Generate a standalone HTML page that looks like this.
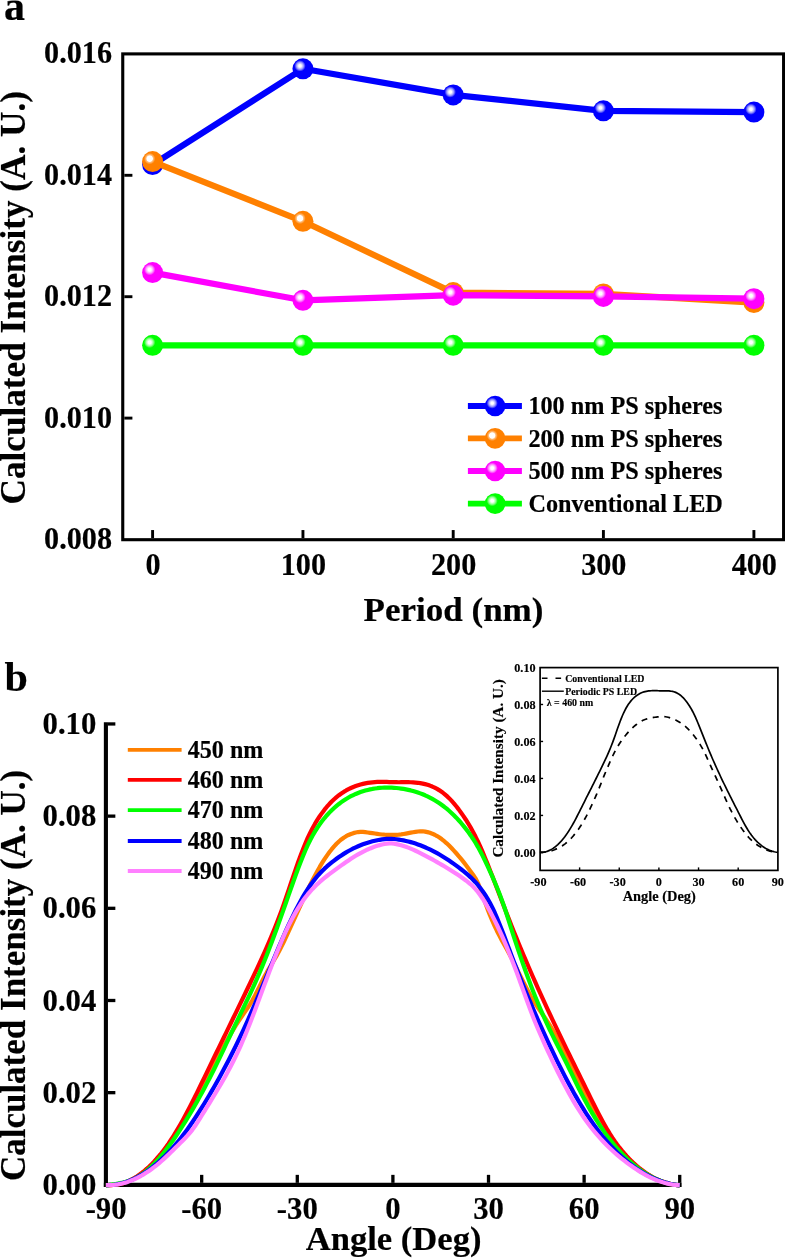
<!DOCTYPE html>
<html lang="en"><head><meta charset="utf-8"><title>Calculated intensity of PS-sphere LEDs</title>
<style>html,body{margin:0;padding:0;background:#fff;}svg{display:block;font-family:"Liberation Serif", "DejaVu Serif", serif;font-weight:bold;fill:#000;}text{stroke:#000;stroke-width:0.2px;stroke-linejoin:round;}#inset text{stroke-width:0.15px;}</style></head><body>
<svg width="785" height="1258" viewBox="0 0 785 1258">
<defs>
<radialGradient id="g_blue" cx="0.36" cy="0.36" r="0.27" fx="0.36" fy="0.36"><stop offset="0" stop-color="#ffffff"/><stop offset="0.22" stop-color="#ffffff"/><stop offset="0.62" stop-color="#9a9aff"/><stop offset="1" stop-color="#0000ff"/></radialGradient>
<radialGradient id="g_orange" cx="0.36" cy="0.36" r="0.27" fx="0.36" fy="0.36"><stop offset="0" stop-color="#ffffff"/><stop offset="0.5" stop-color="#ffffff"/><stop offset="0.62" stop-color="#ffc48a"/><stop offset="1" stop-color="#ff8000"/></radialGradient>
<radialGradient id="g_magenta" cx="0.36" cy="0.36" r="0.27" fx="0.36" fy="0.36"><stop offset="0" stop-color="#ffffff"/><stop offset="0.26" stop-color="#ffffff"/><stop offset="0.62" stop-color="#ff9cff"/><stop offset="1" stop-color="#ff00ff"/></radialGradient>
<radialGradient id="g_green" cx="0.36" cy="0.36" r="0.27" fx="0.36" fy="0.36"><stop offset="0" stop-color="#ffffff"/><stop offset="0.26" stop-color="#ffffff"/><stop offset="0.62" stop-color="#9cff9c"/><stop offset="1" stop-color="#00ff00"/></radialGradient>
</defs>
<rect width="785" height="1258" fill="#fff"/>
<g id="panel-a">
<polyline points="152.6,164.6 302.95,68.8 453.2,94.9 603.4,110.8 753.9,112.1" fill="none" stroke="#0000ff" stroke-width="6.2" stroke-linejoin="round"/>
<circle cx="152.6" cy="164.6" r="10.5" fill="url(#g_blue)"/>
<circle cx="302.95" cy="68.8" r="10.5" fill="url(#g_blue)"/>
<circle cx="453.2" cy="94.9" r="10.5" fill="url(#g_blue)"/>
<circle cx="603.4" cy="110.8" r="10.5" fill="url(#g_blue)"/>
<circle cx="753.9" cy="112.1" r="10.5" fill="url(#g_blue)"/>
<polyline points="152.6,161.6 302.95,221.3 453.2,292.6 603.4,293.9 753.9,302.6" fill="none" stroke="#ff8000" stroke-width="6.2" stroke-linejoin="round"/>
<circle cx="152.6" cy="161.6" r="10.5" fill="url(#g_orange)"/>
<circle cx="302.95" cy="221.3" r="10.5" fill="url(#g_orange)"/>
<circle cx="453.2" cy="292.6" r="10.5" fill="url(#g_orange)"/>
<circle cx="603.4" cy="293.9" r="10.5" fill="url(#g_orange)"/>
<circle cx="753.9" cy="302.6" r="10.5" fill="url(#g_orange)"/>
<polyline points="152.6,272.6 302.95,300.3 453.2,295.2 603.4,296.4 753.9,298.7" fill="none" stroke="#ff00ff" stroke-width="6.2" stroke-linejoin="round"/>
<circle cx="152.6" cy="272.6" r="10.5" fill="url(#g_magenta)"/>
<circle cx="302.95" cy="300.3" r="10.5" fill="url(#g_magenta)"/>
<circle cx="453.2" cy="295.2" r="10.5" fill="url(#g_magenta)"/>
<circle cx="603.4" cy="296.4" r="10.5" fill="url(#g_magenta)"/>
<circle cx="753.9" cy="298.7" r="10.5" fill="url(#g_magenta)"/>
<polyline points="152.6,345.3 302.95,345.3 453.2,345.3 603.4,345.3 753.9,345.3" fill="none" stroke="#00ff00" stroke-width="6.2" stroke-linejoin="round"/>
<circle cx="152.6" cy="345.3" r="10.5" fill="url(#g_green)"/>
<circle cx="302.95" cy="345.3" r="10.5" fill="url(#g_green)"/>
<circle cx="453.2" cy="345.3" r="10.5" fill="url(#g_green)"/>
<circle cx="603.4" cy="345.3" r="10.5" fill="url(#g_green)"/>
<circle cx="753.9" cy="345.3" r="10.5" fill="url(#g_green)"/>
<rect x="122.75" y="53.9" width="660.85" height="485.8" fill="none" stroke="#000" stroke-width="3.1"/>
<text transform="translate(112 63.4) scale(0.9680 1)" font-size="31.2" text-anchor="end" >0.016</text>
<line x1="124.3" y1="175.3" x2="132.4" y2="175.3" stroke="#000" stroke-width="2.9" />
<text transform="translate(112 184.8) scale(0.9680 1)" font-size="31.2" text-anchor="end" >0.014</text>
<line x1="124.3" y1="296.7" x2="132.4" y2="296.7" stroke="#000" stroke-width="2.9" />
<text transform="translate(112 306.2) scale(0.9680 1)" font-size="31.2" text-anchor="end" >0.012</text>
<line x1="124.3" y1="418.1" x2="132.4" y2="418.1" stroke="#000" stroke-width="2.9" />
<text transform="translate(112 427.6) scale(0.9680 1)" font-size="31.2" text-anchor="end" >0.010</text>
<text transform="translate(112 549) scale(0.9680 1)" font-size="31.2" text-anchor="end" >0.008</text>
<line x1="152.6" y1="538.15" x2="152.6" y2="530.05" stroke="#000" stroke-width="2.9" />
<text transform="translate(153 574.5) scale(0.9680 1)" font-size="31.2" text-anchor="middle" >0</text>
<line x1="302.95" y1="538.15" x2="302.95" y2="530.05" stroke="#000" stroke-width="2.9" />
<text transform="translate(303.35 574.5) scale(0.9680 1)" font-size="31.2" text-anchor="middle" >100</text>
<line x1="453.2" y1="538.15" x2="453.2" y2="530.05" stroke="#000" stroke-width="2.9" />
<text transform="translate(453.6 574.5) scale(0.9680 1)" font-size="31.2" text-anchor="middle" >200</text>
<line x1="603.4" y1="538.15" x2="603.4" y2="530.05" stroke="#000" stroke-width="2.9" />
<text transform="translate(603.8 574.5) scale(0.9680 1)" font-size="31.2" text-anchor="middle" >300</text>
<line x1="753.9" y1="538.15" x2="753.9" y2="530.05" stroke="#000" stroke-width="2.9" />
<text transform="translate(754.3 574.5) scale(0.9680 1)" font-size="31.2" text-anchor="middle" >400</text>
<text transform="translate(453.5 620.7) scale(1.0300 1)" font-size="34" text-anchor="middle" >Period (nm)</text>
<text transform="translate(24.9 297.8) rotate(-90)" font-size="35.2" text-anchor="middle" >Calculated Intensity (A. U.)</text>
<line x1="467.9" y1="406" x2="521.9" y2="406" stroke="#0000ff" stroke-width="5.9" />
<circle cx="495.1" cy="406" r="10.3" fill="url(#g_blue)"/>
<text transform="translate(528.4 414.1) scale(0.9250 1)" font-size="26.2" text-anchor="start" >100 nm PS spheres</text>
<line x1="467.9" y1="438.4" x2="521.9" y2="438.4" stroke="#ff8000" stroke-width="5.9" />
<circle cx="495.1" cy="438.4" r="10.3" fill="url(#g_orange)"/>
<text transform="translate(528.4 446.5) scale(0.9250 1)" font-size="26.2" text-anchor="start" >200 nm PS spheres</text>
<line x1="467.9" y1="471" x2="521.9" y2="471" stroke="#ff00ff" stroke-width="5.9" />
<circle cx="495.1" cy="471" r="10.3" fill="url(#g_magenta)"/>
<text transform="translate(528.4 479.1) scale(0.9250 1)" font-size="26.2" text-anchor="start" >500 nm PS spheres</text>
<line x1="467.9" y1="503.6" x2="521.9" y2="503.6" stroke="#00ff00" stroke-width="5.9" />
<circle cx="495.1" cy="503.6" r="10.3" fill="url(#g_green)"/>
<text transform="translate(528.4 511.7) scale(0.9250 1)" font-size="26.2" text-anchor="start" >Conventional LED</text>
<text x="4" y="20.4" font-size="42" text-anchor="start" >a</text>
</g>
<g id="panel-b">
<line x1="105.9" y1="722.2" x2="105.9" y2="1186.95" stroke="#000" stroke-width="4.1" />
<line x1="103.85" y1="1184.9" x2="681.63" y2="1184.9" stroke="#000" stroke-width="4.1" />
<path d="M105.9,1185.06 L108.31,1185.07 L110.73,1185.08 L113.14,1184.96 L115.55,1184.72 L117.96,1184.34 L120.38,1183.82 L122.79,1183.17 L125.2,1182.39 L127.62,1181.47 L130.03,1180.42 L132.44,1179.23 L134.85,1177.91 L137.26,1176.46 L139.66,1174.89 L142.06,1173.17 L144.46,1171.33 L146.86,1169.36 L149.27,1167.26 L151.67,1165.02 L154.07,1162.66 L156.47,1160.16 L158.87,1157.52 L161.27,1154.75 L163.67,1151.85 L166.07,1148.81 L168.47,1145.63 L170.87,1142.31 L173.27,1138.79 L175.67,1135.14 L178.08,1131.34 L180.48,1127.41 L182.88,1123.34 L185.28,1119.16 L187.68,1114.88 L190.08,1110.5 L192.48,1106.04 L194.88,1101.51 L197.28,1096.93 L199.68,1092.3 L202.08,1087.64 L204.48,1082.96 L206.89,1078.28 L209.29,1073.59 L211.69,1068.93 L214.09,1064.29 L216.49,1059.69 L218.89,1055.15 L221.29,1050.66 L223.69,1046.25 L226.09,1041.93 L228.49,1037.7 L230.89,1033.58 L233.29,1029.57 L235.7,1025.69 L238.1,1021.95 L240.5,1018.37 L242.9,1014.88 L245.3,1011.4 L247.7,1007.83 L250.1,1004.08 L252.5,1000.05 L254.9,995.64 L257.3,990.94 L259.7,986.09 L262.1,981.25 L264.51,976.57 L266.91,972.17 L269.31,968.04 L271.71,964.03 L274.11,960.03 L276.51,955.91 L278.91,951.57 L281.31,946.91 L283.71,942 L286.11,936.91 L288.51,931.7 L290.91,926.44 L293.32,921.15 L295.72,915.85 L298.12,910.56 L300.52,905.31 L302.92,900.1 L305.32,894.98 L307.72,889.94 L310.12,885.03 L312.52,880.25 L314.92,875.63 L317.32,871.19 L319.72,866.95 L322.12,862.93 L324.52,859.15 L326.93,855.63 L329.33,852.32 L331.73,849.21 L334.13,846.36 L336.53,843.79 L338.93,841.49 L341.33,839.46 L343.73,837.7 L346.13,836.21 L348.53,834.97 L350.93,833.96 L353.32,833.14 L355.72,832.51 L358.12,832.06 L360.52,831.79 L362.91,831.9 L365.31,832.15 L367.71,832.46 L370.1,832.8 L372.49,833.16 L374.89,833.52 L377.28,833.88 L379.67,834.21 L382.06,834.49 L384.45,834.71 L386.83,834.85 L389.22,834.88 L391.61,834.83 L393.99,834.9 L396.38,834.82 L398.77,834.63 L401.15,834.34 L403.54,833.97 L405.93,833.56 L408.32,833.12 L410.71,832.68 L413.11,832.25 L415.5,831.86 L417.89,831.52 L420.29,831.26 L422.69,831.28 L425.08,831.62 L427.48,832.13 L429.88,832.82 L432.28,833.7 L434.67,834.77 L437.07,836.06 L439.47,837.56 L441.87,839.28 L444.27,841.21 L446.67,843.31 L449.07,845.59 L451.47,848.02 L453.87,850.59 L456.27,853.27 L458.67,856.06 L461.08,858.94 L463.48,861.92 L465.88,864.99 L468.28,868.16 L470.68,871.42 L473.08,874.71 L475.48,878.32 L477.88,882.88 L480.28,888.92 L482.68,895.55 L485.08,902.33 L487.48,908.87 L489.88,914.97 L492.28,920.66 L494.69,926.12 L497.09,931.19 L499.49,935.91 L501.89,940.39 L504.29,944.74 L506.69,949.07 L509.09,953.5 L511.49,958.12 L513.89,962.87 L516.29,967.72 L518.69,972.61 L521.09,977.49 L523.5,982.31 L525.9,987.03 L528.3,991.59 L530.7,995.95 L533.1,1000.05 L535.5,1003.89 L537.9,1007.53 L540.3,1011.04 L542.7,1014.51 L545.1,1018.01 L547.5,1021.62 L549.9,1025.38 L552.31,1029.3 L554.71,1033.36 L557.11,1037.57 L559.51,1041.93 L561.91,1046.42 L564.31,1051.04 L566.71,1055.8 L569.11,1060.67 L571.51,1065.68 L573.91,1070.78 L576.31,1075.94 L578.71,1081.1 L581.12,1086.19 L583.52,1091.17 L585.92,1096 L588.32,1100.69 L590.72,1105.24 L593.12,1109.65 L595.52,1113.92 L597.92,1118.05 L600.32,1122.05 L602.72,1125.91 L605.12,1129.64 L607.52,1133.24 L609.93,1136.7 L612.33,1139.99 L614.73,1143.14 L617.13,1146.18 L619.53,1149.08 L621.93,1151.87 L624.33,1154.54 L626.73,1157.08 L629.13,1159.51 L631.53,1161.82 L633.93,1164.02 L636.33,1166.1 L638.74,1168.08 L641.14,1169.93 L643.54,1171.68 L645.94,1173.32 L648.34,1174.85 L650.75,1176.28 L653.16,1177.59 L655.57,1178.81 L657.98,1179.91 L660.4,1180.91 L662.81,1181.81 L665.22,1182.61 L667.64,1183.3 L670.05,1183.9 L672.46,1184.39 L674.87,1184.79 L677.29,1185.09 L679.7,1185.3" fill="none" stroke="#ff8000" stroke-width="4.2" stroke-linejoin="round" stroke-linecap="butt"/>
<path d="M105.9,1185.1 L108.31,1185.07 L110.73,1185.11 L113.14,1185.02 L115.55,1184.79 L117.96,1184.41 L120.38,1183.89 L122.79,1183.22 L125.2,1182.41 L127.62,1181.45 L130.03,1180.35 L132.44,1179.11 L134.85,1177.72 L137.26,1176.2 L139.66,1174.53 L142.06,1172.73 L144.46,1170.79 L146.86,1168.71 L149.27,1166.49 L151.67,1164.13 L154.07,1161.63 L156.47,1158.98 L158.87,1156.2 L161.27,1153.27 L163.67,1150.2 L166.07,1146.99 L168.47,1143.59 L170.87,1140.02 L173.27,1136.3 L175.67,1132.43 L178.08,1128.41 L180.48,1124.25 L182.88,1119.96 L185.28,1115.54 L187.68,1111.02 L190.08,1106.4 L192.48,1101.7 L194.88,1096.92 L197.28,1092.08 L199.68,1087.18 L202.08,1082.25 L204.48,1077.3 L206.89,1072.33 L209.29,1067.35 L211.69,1062.38 L214.09,1057.43 L216.49,1052.49 L218.89,1047.56 L221.29,1042.64 L223.69,1037.72 L226.09,1032.8 L228.49,1027.88 L230.89,1022.96 L233.29,1018.04 L235.7,1013.11 L238.1,1008.17 L240.5,1003.21 L242.9,998.25 L245.3,993.27 L247.7,988.27 L250.1,983.24 L252.5,978.2 L254.9,973.13 L257.3,968.03 L259.7,962.86 L262.1,957.63 L264.51,952.3 L266.91,946.85 L269.31,941.3 L271.71,935.64 L274.11,929.81 L276.51,923.79 L278.91,917.57 L281.31,911.13 L283.71,904.45 L286.11,897.52 L288.51,890.43 L290.91,883.27 L293.32,876.12 L295.72,869.08 L298.12,862.23 L300.52,855.66 L302.92,849.4 L305.32,843.47 L307.72,837.94 L310.12,832.89 L312.52,828.21 L314.92,823.9 L317.32,819.92 L319.72,816.26 L322.12,812.89 L324.52,809.68 L326.93,806.73 L329.33,804.02 L331.73,801.53 L334.13,799.24 L336.53,797.14 L338.93,795.22 L341.33,793.47 L343.73,791.88 L346.13,790.45 L348.53,789.15 L350.93,787.99 L353.32,786.95 L355.72,786.03 L358.12,785.22 L360.52,784.51 L362.91,783.9 L365.31,783.38 L367.71,782.94 L370.1,782.59 L372.49,782.31 L374.89,782.1 L377.28,781.95 L379.67,781.85 L382.06,781.84 L384.45,781.89 L386.83,781.96 L389.22,782.04 L391.61,782.11 L393.99,782.17 L396.38,782.22 L398.77,782.23 L401.15,782.22 L403.54,782.22 L405.93,782.21 L408.32,782.2 L410.71,782.26 L413.11,782.36 L415.5,782.54 L417.89,782.79 L420.29,783.13 L422.69,783.58 L425.08,784.13 L427.48,784.81 L429.88,785.61 L432.28,786.55 L434.67,787.64 L437.07,788.89 L439.47,790.33 L441.87,791.96 L444.27,793.81 L446.67,795.87 L449.07,798.15 L451.47,800.64 L453.87,803.34 L456.27,806.25 L458.67,809.37 L461.08,812.66 L463.48,816.09 L465.88,819.72 L468.28,823.56 L470.68,827.64 L473.08,831.96 L475.48,836.56 L477.88,841.45 L480.28,846.64 L482.68,852.18 L485.08,857.96 L487.48,863.9 L489.88,869.96 L492.28,876.1 L494.69,882.29 L497.09,888.51 L499.49,894.75 L501.89,900.99 L504.29,907.21 L506.69,913.41 L509.09,919.57 L511.49,925.67 L513.89,931.69 L516.29,937.63 L518.69,943.5 L521.09,949.29 L523.5,955.01 L525.9,960.66 L528.3,966.25 L530.7,971.79 L533.1,977.28 L535.5,982.71 L537.9,988.09 L540.3,993.41 L542.7,998.69 L545.1,1003.91 L547.5,1009.1 L549.9,1014.24 L552.31,1019.35 L554.71,1024.42 L557.11,1029.45 L559.51,1034.46 L561.91,1039.44 L564.31,1044.4 L566.71,1049.33 L569.11,1054.25 L571.51,1059.15 L573.91,1064.04 L576.31,1068.93 L578.71,1073.8 L581.12,1078.67 L583.52,1083.54 L585.92,1088.41 L588.32,1093.29 L590.72,1098.15 L593.12,1102.98 L595.52,1107.75 L597.92,1112.44 L600.32,1117.03 L602.72,1121.49 L605.12,1125.81 L607.52,1129.96 L609.93,1133.92 L612.33,1137.67 L614.73,1141.24 L617.13,1144.55 L619.53,1147.68 L621.93,1150.65 L624.33,1153.47 L626.73,1156.15 L629.13,1158.7 L631.53,1161.11 L633.93,1163.4 L636.33,1165.56 L638.74,1167.59 L641.14,1169.5 L643.54,1171.29 L645.94,1172.96 L648.34,1174.52 L650.75,1175.97 L653.16,1177.3 L655.57,1178.53 L657.98,1179.65 L660.4,1180.67 L662.81,1181.58 L665.22,1182.4 L667.64,1183.11 L670.05,1183.74 L672.46,1184.27 L674.87,1184.72 L677.29,1185.08 L679.7,1185.36" fill="none" stroke="#ff0000" stroke-width="4.2" stroke-linejoin="round" stroke-linecap="butt"/>
<path d="M105.9,1185.38 L108.31,1185.05 L110.73,1184.71 L113.14,1184.36 L115.55,1183.98 L117.96,1183.56 L120.38,1183.09 L122.79,1182.55 L125.2,1181.93 L127.62,1181.21 L130.03,1180.38 L132.44,1179.42 L134.85,1178.33 L137.26,1177.08 L139.66,1175.68 L142.06,1174.1 L144.46,1172.35 L146.86,1170.43 L149.27,1168.35 L151.67,1166.11 L154.07,1163.72 L156.47,1161.2 L158.87,1158.53 L161.27,1155.74 L163.67,1152.82 L166.07,1149.78 L168.47,1146.62 L170.87,1143.36 L173.27,1139.97 L175.67,1136.46 L178.08,1132.87 L180.48,1129.19 L182.88,1125.43 L185.28,1121.58 L187.68,1117.66 L190.08,1113.66 L192.48,1109.57 L194.88,1105.41 L197.28,1101.16 L199.68,1096.84 L202.08,1092.43 L204.48,1087.95 L206.89,1083.38 L209.29,1078.74 L211.69,1074.02 L214.09,1069.22 L216.49,1064.34 L218.89,1059.38 L221.29,1054.36 L223.69,1049.31 L226.09,1044.22 L228.49,1039.11 L230.89,1034.01 L233.29,1028.92 L235.7,1023.87 L238.1,1018.86 L240.5,1013.89 L242.9,1008.92 L245.3,1003.94 L247.7,998.92 L250.1,993.83 L252.5,988.65 L254.9,983.34 L257.3,977.9 L259.7,972.33 L262.1,966.61 L264.51,960.73 L266.91,954.7 L269.31,948.51 L271.71,942.2 L274.11,935.77 L276.51,929.23 L278.91,922.6 L281.31,915.88 L283.71,909.09 L286.11,902.24 L288.51,895.37 L290.91,888.52 L293.32,881.74 L295.72,875.08 L298.12,868.59 L300.52,862.3 L302.92,856.27 L305.32,850.51 L307.72,845.19 L310.12,840.27 L312.52,835.75 L314.92,831.61 L317.32,827.81 L319.72,824.33 L322.12,821.06 L324.52,818.01 L326.93,815.21 L329.33,812.62 L331.73,810.22 L334.13,807.98 L336.53,805.89 L338.93,803.95 L341.33,802.15 L343.73,800.48 L346.13,798.94 L348.53,797.52 L350.93,796.22 L353.32,795.04 L355.72,793.95 L358.12,792.97 L360.52,792.08 L362.91,791.29 L365.31,790.58 L367.71,789.95 L370.1,789.41 L372.49,788.94 L374.89,788.54 L377.28,788.21 L379.67,787.95 L382.06,787.75 L384.45,787.6 L386.83,787.51 L389.22,787.54 L391.61,787.64 L393.99,787.79 L396.38,787.99 L398.77,788.25 L401.15,788.56 L403.54,788.93 L405.93,789.36 L408.32,789.85 L410.71,790.41 L413.11,791.04 L415.5,791.74 L417.89,792.51 L420.29,793.36 L422.69,794.29 L425.08,795.3 L427.48,796.39 L429.88,797.58 L432.28,798.86 L434.67,800.23 L437.07,801.71 L439.47,803.29 L441.87,804.99 L444.27,806.79 L446.67,808.72 L449.07,810.77 L451.47,812.94 L453.87,815.25 L456.27,817.69 L458.67,820.26 L461.08,822.98 L463.48,825.85 L465.88,828.87 L468.28,832.08 L470.68,835.42 L473.08,838.95 L475.48,842.75 L477.88,846.82 L480.28,851.19 L482.68,855.85 L485.08,860.74 L487.48,865.83 L489.88,871.08 L492.28,876.45 L494.69,881.99 L497.09,887.75 L499.49,893.79 L501.89,900.19 L504.29,907.01 L506.69,914.27 L509.09,921.8 L511.49,929.4 L513.89,936.88 L516.29,944.22 L518.69,951.4 L521.09,958.43 L523.5,965.3 L525.9,972.01 L528.3,978.56 L530.7,984.94 L533.1,991.16 L535.5,997.2 L537.9,1003.06 L540.3,1008.75 L542.7,1014.3 L545.1,1019.71 L547.5,1024.93 L549.9,1029.99 L552.31,1034.92 L554.71,1039.76 L557.11,1044.53 L559.51,1049.26 L561.91,1053.99 L564.31,1058.75 L566.71,1063.56 L569.11,1068.48 L571.51,1073.45 L573.91,1078.45 L576.31,1083.4 L578.71,1088.27 L581.12,1093 L583.52,1097.6 L585.92,1102.07 L588.32,1106.4 L590.72,1110.6 L593.12,1114.67 L595.52,1118.62 L597.92,1122.43 L600.32,1126.13 L602.72,1129.69 L605.12,1133.13 L607.52,1136.4 L609.93,1139.55 L612.33,1142.58 L614.73,1145.5 L617.13,1148.3 L619.53,1151 L621.93,1153.58 L624.33,1156.05 L626.73,1158.41 L629.13,1160.66 L631.53,1162.81 L633.93,1164.85 L636.33,1166.79 L638.74,1168.63 L641.14,1170.37 L643.54,1172 L645.94,1173.54 L648.34,1174.99 L650.75,1176.33 L653.16,1177.58 L655.57,1178.74 L657.98,1179.8 L660.4,1180.77 L662.81,1181.65 L665.22,1182.44 L667.64,1183.14 L670.05,1183.75 L672.46,1184.28 L674.87,1184.72 L677.29,1185.08 L679.7,1185.36" fill="none" stroke="#00ff00" stroke-width="4.2" stroke-linejoin="round" stroke-linecap="butt"/>
<path d="M105.9,1185.08 L108.31,1185.07 L110.73,1184.97 L113.14,1184.78 L115.55,1184.48 L117.96,1184.08 L120.38,1183.58 L122.79,1182.97 L125.2,1182.27 L127.62,1181.46 L130.03,1180.55 L132.44,1179.53 L134.85,1178.42 L137.26,1177.21 L139.66,1175.9 L142.06,1174.49 L144.46,1172.98 L146.86,1171.37 L149.27,1169.67 L151.67,1167.87 L154.07,1165.96 L156.47,1163.96 L158.87,1161.86 L161.27,1159.66 L163.67,1157.37 L166.07,1154.97 L168.47,1152.48 L170.87,1149.88 L173.27,1147.19 L175.67,1144.39 L178.08,1141.5 L180.48,1138.51 L182.88,1135.41 L185.28,1132.22 L187.68,1128.93 L190.08,1125.52 L192.48,1122.01 L194.88,1118.42 L197.28,1114.74 L199.68,1110.99 L202.08,1107.16 L204.48,1103.25 L206.89,1099.27 L209.29,1095.23 L211.69,1091.11 L214.09,1086.94 L216.49,1082.7 L218.89,1078.4 L221.29,1074.03 L223.69,1069.58 L226.09,1065.06 L228.49,1060.47 L230.89,1055.79 L233.29,1051.03 L235.7,1046.18 L238.1,1041.24 L240.5,1036.21 L242.9,1031.08 L245.3,1025.86 L247.7,1020.53 L250.1,1015.1 L252.5,1009.59 L254.9,1004.03 L257.3,998.41 L259.7,992.73 L262.1,987.01 L264.51,981.27 L266.91,975.51 L269.31,969.74 L271.71,963.98 L274.11,958.25 L276.51,952.55 L278.91,946.89 L281.31,941.3 L283.71,935.81 L286.11,930.44 L288.51,925.18 L290.91,920.05 L293.32,915.06 L295.72,910.24 L298.12,905.59 L300.52,901.14 L302.92,896.89 L305.32,892.87 L307.72,889.08 L310.12,885.55 L312.52,882.24 L314.92,879.1 L317.32,876.19 L319.72,873.49 L322.12,870.98 L324.52,868.64 L326.93,866.45 L329.33,864.38 L331.73,862.42 L334.13,860.55 L336.53,858.76 L338.93,857.05 L341.33,855.43 L343.73,853.88 L346.13,852.41 L348.53,851.03 L350.93,849.72 L353.32,848.48 L355.72,847.33 L358.12,846.25 L360.52,845.24 L362.91,844.31 L365.31,843.45 L367.71,842.67 L370.1,841.95 L372.49,841.31 L374.89,840.74 L377.28,840.23 L379.67,839.8 L382.06,839.44 L384.45,839.15 L386.83,838.93 L389.22,838.79 L391.61,838.85 L393.99,839.03 L396.38,839.27 L398.77,839.59 L401.15,839.97 L403.54,840.42 L405.93,840.93 L408.32,841.51 L410.71,842.14 L413.11,842.84 L415.5,843.61 L417.89,844.43 L420.29,845.31 L422.69,846.26 L425.08,847.26 L427.48,848.33 L429.88,849.45 L432.28,850.64 L434.67,851.88 L437.07,853.18 L439.47,854.54 L441.87,855.95 L444.27,857.42 L446.67,858.95 L449.07,860.53 L451.47,862.17 L453.87,863.86 L456.27,865.61 L458.67,867.4 L461.08,869.25 L463.48,871.15 L465.88,873.12 L468.28,875.17 L470.68,877.35 L473.08,879.69 L475.48,882.22 L477.88,884.98 L480.28,888 L482.68,891.26 L485.08,894.74 L487.48,898.57 L489.88,902.78 L492.28,907.41 L494.69,912.47 L497.09,918.03 L499.49,923.92 L501.89,930.03 L504.29,936.3 L506.69,942.66 L509.09,949.04 L511.49,955.39 L513.89,961.68 L516.29,967.88 L518.69,974 L521.09,980.02 L523.5,985.95 L525.9,991.78 L528.3,997.52 L530.7,1003.18 L533.1,1008.75 L535.5,1014.28 L537.9,1019.73 L540.3,1025.1 L542.7,1030.41 L545.1,1035.64 L547.5,1040.81 L549.9,1045.92 L552.31,1050.96 L554.71,1055.93 L557.11,1060.84 L559.51,1065.67 L561.91,1070.42 L564.31,1075.1 L566.71,1079.69 L569.11,1084.19 L571.51,1088.61 L573.91,1092.93 L576.31,1097.15 L578.71,1101.27 L581.12,1105.29 L583.52,1109.21 L585.92,1113.01 L588.32,1116.71 L590.72,1120.29 L593.12,1123.77 L595.52,1127.1 L597.92,1130.31 L600.32,1133.43 L602.72,1136.44 L605.12,1139.35 L607.52,1142.16 L609.93,1144.87 L612.33,1147.48 L614.73,1149.99 L617.13,1152.41 L619.53,1154.74 L621.93,1156.97 L624.33,1159.11 L626.73,1161.16 L629.13,1163.13 L631.53,1165 L633.93,1166.78 L636.33,1168.48 L638.74,1170.09 L641.14,1171.62 L643.54,1173.07 L645.94,1174.43 L648.34,1175.71 L650.75,1176.91 L653.16,1178.03 L655.57,1179.07 L657.98,1180.03 L660.4,1180.92 L662.81,1181.73 L665.22,1182.47 L667.64,1183.13 L670.05,1183.72 L672.46,1184.24 L674.87,1184.69 L677.29,1185.07 L679.7,1185.39" fill="none" stroke="#0000ff" stroke-width="4.2" stroke-linejoin="round" stroke-linecap="butt"/>
<path d="M105.9,1185 L108.31,1185.07 L110.73,1185.03 L113.14,1184.9 L115.55,1184.66 L117.96,1184.31 L120.38,1183.86 L122.79,1183.31 L125.2,1182.65 L127.62,1181.89 L130.03,1181.03 L132.44,1180.07 L134.85,1179.01 L137.26,1177.86 L139.66,1176.61 L142.06,1175.26 L144.46,1173.83 L146.86,1172.3 L149.27,1170.68 L151.67,1168.97 L154.07,1167.17 L156.47,1165.29 L158.87,1163.32 L161.27,1161.25 L163.67,1159.11 L166.07,1156.89 L168.47,1154.61 L170.87,1152.29 L173.27,1149.93 L175.67,1147.55 L178.08,1145.17 L180.48,1142.79 L182.88,1140.42 L185.28,1137.98 L187.68,1135.42 L190.08,1132.66 L192.48,1129.62 L194.88,1126.27 L197.28,1122.62 L199.68,1118.82 L202.08,1114.94 L204.48,1111.03 L206.89,1107.14 L209.29,1103.27 L211.69,1099.38 L214.09,1095.48 L216.49,1091.53 L218.89,1087.52 L221.29,1083.44 L223.69,1079.26 L226.09,1074.98 L228.49,1070.57 L230.89,1066.02 L233.29,1061.31 L235.7,1056.42 L238.1,1051.33 L240.5,1046.04 L242.9,1040.52 L245.3,1034.87 L247.7,1029 L250.1,1022.95 L252.5,1016.75 L254.9,1010.43 L257.3,1004.03 L259.7,997.56 L262.1,991.07 L264.51,984.59 L266.91,978.15 L269.31,971.78 L271.71,965.5 L274.11,959.34 L276.51,953.31 L278.91,947.42 L281.31,941.69 L283.71,936.16 L286.11,930.89 L288.51,925.84 L290.91,921.01 L293.32,916.43 L295.72,912.11 L298.12,908.07 L300.52,904.31 L302.92,900.84 L305.32,897.55 L307.72,894.46 L310.12,891.59 L312.52,888.92 L314.92,886.44 L317.32,884.11 L319.72,881.93 L322.12,879.86 L324.52,877.89 L326.93,876 L329.33,874.17 L331.73,872.37 L334.13,870.59 L336.53,868.83 L338.93,867.08 L341.33,865.36 L343.73,863.67 L346.13,862.01 L348.53,860.4 L350.93,858.82 L353.32,857.3 L355.72,855.83 L358.12,854.42 L360.52,853.08 L362.91,851.8 L365.31,850.6 L367.71,849.47 L370.1,848.43 L372.49,847.46 L374.89,846.59 L377.28,845.8 L379.67,845.11 L382.06,844.51 L384.45,844.01 L386.83,843.62 L389.22,843.33 L391.61,843.35 L393.99,843.66 L396.38,844.08 L398.77,844.61 L401.15,845.24 L403.54,845.96 L405.93,846.76 L408.32,847.65 L410.71,848.61 L413.11,849.64 L415.5,850.73 L417.89,851.87 L420.29,853.06 L422.69,854.29 L425.08,855.55 L427.48,856.83 L429.88,858.12 L432.28,859.43 L434.67,860.75 L437.07,862.1 L439.47,863.46 L441.87,864.85 L444.27,866.26 L446.67,867.7 L449.07,869.17 L451.47,870.67 L453.87,872.2 L456.27,873.77 L458.67,875.37 L461.08,877.02 L463.48,878.7 L465.88,880.44 L468.28,882.3 L470.68,884.33 L473.08,886.58 L475.48,889.12 L477.88,892 L480.28,895.22 L482.68,898.72 L485.08,902.58 L487.48,906.73 L489.88,911.09 L492.28,915.63 L494.69,920.37 L497.09,925.28 L499.49,930.38 L501.89,935.66 L504.29,941.15 L506.69,946.86 L509.09,952.72 L511.49,958.76 L513.89,964.96 L516.29,971.31 L518.69,977.82 L521.09,984.43 L523.5,991.09 L525.9,997.75 L528.3,1004.34 L530.7,1010.79 L533.1,1017.03 L535.5,1022.99 L537.9,1028.71 L540.3,1034.27 L542.7,1039.71 L545.1,1045.05 L547.5,1050.31 L549.9,1055.49 L552.31,1060.58 L554.71,1065.58 L557.11,1070.49 L559.51,1075.3 L561.91,1080.01 L564.31,1084.6 L566.71,1089.09 L569.11,1093.46 L571.51,1097.71 L573.91,1101.84 L576.31,1105.84 L578.71,1109.71 L581.12,1113.44 L583.52,1117.03 L585.92,1120.48 L588.32,1123.76 L590.72,1126.91 L593.12,1129.94 L595.52,1132.87 L597.92,1135.68 L600.32,1138.39 L602.72,1141 L605.12,1143.52 L607.52,1145.94 L609.93,1148.27 L612.33,1150.52 L614.73,1152.7 L617.13,1154.8 L619.53,1156.83 L621.93,1158.79 L624.33,1160.69 L626.73,1162.54 L629.13,1164.32 L631.53,1166.05 L633.93,1167.72 L636.33,1169.33 L638.74,1170.87 L641.14,1172.35 L643.54,1173.76 L645.94,1175.1 L648.34,1176.37 L650.75,1177.56 L653.16,1178.67 L655.57,1179.71 L657.98,1180.67 L660.4,1181.54 L662.81,1182.33 L665.22,1183.02 L667.64,1183.63 L670.05,1184.14 L672.46,1184.55 L674.87,1184.87 L677.29,1185.09 L679.7,1185.2" fill="none" stroke="#ff80ff" stroke-width="4.2" stroke-linejoin="round" stroke-linecap="butt"/>
<text transform="translate(96.3 1194.95) scale(0.9650 1)" font-size="31.8" text-anchor="end" >0.00</text>
<line x1="107.95" y1="1092.67" x2="115.35" y2="1092.67" stroke="#000" stroke-width="3.3" />
<text transform="translate(96.3 1102.77) scale(0.9650 1)" font-size="31.8" text-anchor="end" >0.02</text>
<line x1="107.95" y1="1000.49" x2="115.35" y2="1000.49" stroke="#000" stroke-width="3.3" />
<text transform="translate(96.3 1010.59) scale(0.9650 1)" font-size="31.8" text-anchor="end" >0.04</text>
<line x1="107.95" y1="908.31" x2="115.35" y2="908.31" stroke="#000" stroke-width="3.3" />
<text transform="translate(96.3 918.41) scale(0.9650 1)" font-size="31.8" text-anchor="end" >0.06</text>
<line x1="107.95" y1="816.13" x2="115.35" y2="816.13" stroke="#000" stroke-width="3.3" />
<text transform="translate(96.3 826.23) scale(0.9650 1)" font-size="31.8" text-anchor="end" >0.08</text>
<line x1="107.95" y1="723.95" x2="115.35" y2="723.95" stroke="#000" stroke-width="3.3" />
<text transform="translate(96.3 734.05) scale(0.9650 1)" font-size="31.8" text-anchor="end" >0.10</text>
<text transform="translate(106.07 1219.2) scale(0.9650 1)" font-size="31.8" text-anchor="middle" >-90</text>
<line x1="201.68" y1="1182.85" x2="201.68" y2="1174.85" stroke="#000" stroke-width="3.3" />
<text transform="translate(201.68 1219.2) scale(0.9650 1)" font-size="31.8" text-anchor="middle" >-60</text>
<line x1="297.29" y1="1182.85" x2="297.29" y2="1174.85" stroke="#000" stroke-width="3.3" />
<text transform="translate(297.29 1219.2) scale(0.9650 1)" font-size="31.8" text-anchor="middle" >-30</text>
<line x1="392.9" y1="1182.85" x2="392.9" y2="1174.85" stroke="#000" stroke-width="3.3" />
<text transform="translate(392.9 1219.2) scale(0.9650 1)" font-size="31.8" text-anchor="middle" >0</text>
<line x1="488.51" y1="1182.85" x2="488.51" y2="1174.85" stroke="#000" stroke-width="3.3" />
<text transform="translate(488.51 1219.2) scale(0.9650 1)" font-size="31.8" text-anchor="middle" >30</text>
<line x1="584.12" y1="1182.85" x2="584.12" y2="1174.85" stroke="#000" stroke-width="3.3" />
<text transform="translate(584.12 1219.2) scale(0.9650 1)" font-size="31.8" text-anchor="middle" >60</text>
<line x1="679.73" y1="1182.85" x2="679.73" y2="1174.85" stroke="#000" stroke-width="3.3" />
<text transform="translate(679.73 1219.2) scale(0.9650 1)" font-size="31.8" text-anchor="middle" >90</text>
<text x="393.6" y="1249.6" font-size="34.6" text-anchor="middle" >Angle (Deg)</text>
<text transform="translate(24.7 975.5) rotate(-90)" font-size="35" text-anchor="middle" >Calculated Intensity (A. U.)</text>
<line x1="127.8" y1="749.8" x2="181.6" y2="749.8" stroke="#ff8000" stroke-width="3.8" />
<text transform="translate(187.8 757.6) scale(0.9550 1)" font-size="25.2" text-anchor="start" >450 nm</text>
<line x1="127.8" y1="779.9" x2="181.6" y2="779.9" stroke="#ff0000" stroke-width="3.8" />
<text transform="translate(187.8 787.7) scale(0.9550 1)" font-size="25.2" text-anchor="start" >460 nm</text>
<line x1="127.8" y1="810.1" x2="181.6" y2="810.1" stroke="#00ff00" stroke-width="3.8" />
<text transform="translate(187.8 817.9) scale(0.9550 1)" font-size="25.2" text-anchor="start" >470 nm</text>
<line x1="127.8" y1="841" x2="181.6" y2="841" stroke="#0000ff" stroke-width="3.8" />
<text transform="translate(187.8 848.8) scale(0.9550 1)" font-size="25.2" text-anchor="start" >480 nm</text>
<line x1="127.8" y1="871" x2="181.6" y2="871" stroke="#ff80ff" stroke-width="3.8" />
<text transform="translate(187.8 878.8) scale(0.9550 1)" font-size="25.2" text-anchor="start" >490 nm</text>
<text x="4.6" y="690.7" font-size="42" text-anchor="start" >b</text>
</g>
<g id="inset">
<rect x="540.1" y="667.6" width="237.8" height="202.8" fill="#fff" stroke="#000" stroke-width="1.7"/>
<path d="M539.97,852.4 L541.29,852.37 L542.61,852.29 L543.93,852.17 L545.25,852.02 L546.57,851.85 L547.89,851.66 L549.22,851.42 L550.54,851.1 L551.86,850.69 L553.18,850.23 L554.5,849.71 L555.82,849.15 L557.14,848.57 L558.47,847.96 L559.79,847.29 L561.11,846.53 L562.43,845.7 L563.75,844.79 L565.07,843.82 L566.39,842.79 L567.72,841.67 L569.04,840.44 L570.36,839.12 L571.68,837.71 L573,836.21 L574.32,834.63 L575.65,832.99 L576.97,831.29 L578.29,829.51 L579.61,827.58 L580.93,825.53 L582.25,823.36 L583.57,821.1 L584.9,818.75 L586.22,816.34 L587.54,813.84 L588.86,811.22 L590.18,808.48 L591.5,805.66 L592.83,802.76 L594.15,799.8 L595.47,796.81 L596.79,793.79 L598.11,790.68 L599.43,787.43 L600.75,784.11 L602.08,780.76 L603.4,777.42 L604.72,774.17 L606.04,771.04 L607.36,767.98 L608.68,764.91 L610,761.86 L611.33,758.88 L612.65,756 L613.97,753.26 L615.29,750.71 L616.61,748.36 L617.93,746.15 L619.25,744.04 L620.58,742.04 L621.9,740.14 L623.22,738.33 L624.54,736.61 L625.86,734.99 L627.18,733.42 L628.51,731.91 L629.83,730.45 L631.15,729.06 L632.47,727.77 L633.79,726.57 L635.11,725.49 L636.43,724.51 L637.76,723.55 L639.08,722.63 L640.4,721.77 L641.72,720.99 L643.04,720.3 L644.36,719.72 L645.68,719.27 L647.01,718.91 L648.33,718.57 L649.65,718.25 L650.97,717.95 L652.29,717.69 L653.61,717.46 L654.94,717.26 L656.26,717.09 L657.58,716.96 L658.9,716.87 L660.22,716.8 L661.54,716.74 L662.86,716.7 L664.19,716.68 L665.51,716.76 L666.83,716.98 L668.15,717.29 L669.47,717.68 L670.79,718.1 L672.12,718.53 L673.44,719 L674.76,719.56 L676.08,720.2 L677.4,720.9 L678.72,721.67 L680.04,722.49 L681.37,723.36 L682.69,724.26 L684.01,725.27 L685.33,726.38 L686.65,727.58 L687.97,728.87 L689.29,730.23 L690.62,731.66 L691.94,733.14 L693.26,734.71 L694.58,736.39 L695.9,738.18 L697.22,740.07 L698.54,742.07 L699.87,744.16 L701.19,746.34 L702.51,748.64 L703.83,751.15 L705.15,753.83 L706.47,756.65 L707.8,759.54 L709.12,762.47 L710.44,765.4 L711.76,768.27 L713.08,771.12 L714.4,774.01 L715.72,776.92 L717.05,779.85 L718.37,782.78 L719.69,785.7 L721.01,788.61 L722.33,791.55 L723.65,794.54 L724.97,797.55 L726.3,800.55 L727.62,803.5 L728.94,806.37 L730.26,809.12 L731.58,811.72 L732.9,814.2 L734.23,816.61 L735.55,818.93 L736.87,821.17 L738.19,823.31 L739.51,825.34 L740.83,827.27 L742.15,829.13 L743.48,830.95 L744.8,832.7 L746.12,834.39 L747.44,836 L748.76,837.51 L750.08,838.91 L751.4,840.2 L752.73,841.39 L754.05,842.51 L755.37,843.56 L756.69,844.53 L758.01,845.43 L759.33,846.25 L760.66,847.01 L761.98,847.75 L763.3,848.46 L764.62,849.13 L765.94,849.74 L767.26,850.28 L768.58,850.74 L769.91,851.11 L771.23,851.41 L772.55,851.7 L773.87,851.95 L775.19,852.16 L776.51,852.31 L777.83,852.4" fill="none" stroke="#000" stroke-width="1.7" stroke-dasharray="6 5.6"/>
<path d="M539.89,852.4 L541.09,852.4 L542.29,852.35 L543.48,852.21 L544.68,852 L545.87,851.71 L547.07,851.34 L548.26,850.9 L549.46,850.38 L550.66,849.79 L551.85,849.12 L553.05,848.37 L554.24,847.54 L555.44,846.63 L556.63,845.65 L557.83,844.58 L559.02,843.44 L560.22,842.21 L561.42,840.9 L562.61,839.51 L563.81,838.03 L565,836.48 L566.2,834.83 L567.39,833.11 L568.59,831.3 L569.78,829.4 L570.98,827.42 L572.18,825.36 L573.37,823.23 L574.57,821.04 L575.76,818.79 L576.96,816.5 L578.15,814.17 L579.35,811.82 L580.55,809.44 L581.74,807.05 L582.94,804.65 L584.13,802.26 L585.33,799.87 L586.52,797.49 L587.72,795.12 L588.91,792.75 L590.11,790.38 L591.31,788.01 L592.5,785.64 L593.7,783.26 L594.89,780.88 L596.09,778.5 L597.28,776.1 L598.48,773.7 L599.68,771.29 L600.87,768.86 L602.07,766.42 L603.26,763.96 L604.46,761.46 L605.65,758.91 L606.85,756.31 L608.04,753.62 L609.24,750.85 L610.44,747.98 L611.63,744.98 L612.83,741.86 L614.02,738.6 L615.22,735.21 L616.41,731.77 L617.61,728.32 L618.81,724.94 L620,721.69 L621.2,718.61 L622.39,715.71 L623.59,713.02 L624.78,710.53 L625.98,708.26 L627.17,706.2 L628.37,704.33 L629.57,702.64 L630.76,701.11 L631.96,699.74 L633.15,698.5 L634.35,697.37 L635.54,696.36 L636.74,695.46 L637.94,694.65 L639.13,693.94 L640.33,693.32 L641.52,692.77 L642.72,692.31 L643.91,691.92 L645.11,691.59 L646.3,691.32 L647.5,691.11 L648.7,690.95 L649.89,690.83 L651.09,690.75 L652.28,690.7 L653.48,690.68 L654.67,690.68 L655.87,690.7 L657.07,690.72 L658.26,690.76 L659.46,690.79 L660.65,690.82 L661.85,690.83 L663.04,690.83 L664.24,690.83 L665.43,690.83 L666.63,690.84 L667.83,690.88 L669.02,690.94 L670.22,691.06 L671.41,691.22 L672.61,691.45 L673.8,691.76 L675,692.14 L676.2,692.62 L677.39,693.21 L678.59,693.9 L679.78,694.72 L680.98,695.67 L682.17,696.75 L683.37,697.95 L684.56,699.28 L685.76,700.72 L686.96,702.28 L688.15,703.96 L689.35,705.76 L690.54,707.69 L691.74,709.76 L692.93,711.99 L694.13,714.39 L695.32,716.95 L696.52,719.66 L697.72,722.48 L698.91,725.39 L700.11,728.34 L701.3,731.32 L702.5,734.32 L703.69,737.33 L704.89,740.33 L706.09,743.32 L707.28,746.28 L708.48,749.21 L709.67,752.1 L710.87,754.94 L712.06,757.73 L713.26,760.49 L714.45,763.2 L715.65,765.88 L716.85,768.52 L718.04,771.13 L719.24,773.71 L720.43,776.26 L721.63,778.78 L722.82,781.27 L724.02,783.75 L725.22,786.2 L726.41,788.63 L727.61,791.04 L728.8,793.44 L730,795.83 L731.19,798.2 L732.39,800.56 L733.58,802.92 L734.78,805.27 L735.98,807.62 L737.17,809.97 L738.37,812.31 L739.56,814.66 L740.76,817 L741.95,819.32 L743.15,821.6 L744.35,823.82 L745.54,825.97 L746.74,828.04 L747.93,830.01 L749.13,831.86 L750.32,833.61 L751.52,835.24 L752.71,836.78 L753.91,838.22 L755.11,839.57 L756.3,840.85 L757.5,842.04 L758.69,843.16 L759.89,844.21 L761.08,845.19 L762.28,846.09 L763.48,846.93 L764.67,847.71 L765.87,848.42 L767.06,849.06 L768.26,849.65 L769.45,850.18 L770.65,850.65 L771.84,851.07 L773.04,851.44 L774.24,851.76 L775.43,852.02 L776.63,852.24 L777.82,852.4" fill="none" stroke="#000" stroke-width="1.7"/>
<line x1="540.1" y1="852.4" x2="543.1" y2="852.4" stroke="#000" stroke-width="1.4" />
<text x="535.6" y="856.6" font-size="12.2" text-anchor="end" >0.00</text>
<line x1="540.1" y1="815.42" x2="543.1" y2="815.42" stroke="#000" stroke-width="1.4" />
<text x="535.6" y="819.62" font-size="12.2" text-anchor="end" >0.02</text>
<line x1="540.1" y1="778.44" x2="543.1" y2="778.44" stroke="#000" stroke-width="1.4" />
<text x="535.6" y="782.64" font-size="12.2" text-anchor="end" >0.04</text>
<line x1="540.1" y1="741.46" x2="543.1" y2="741.46" stroke="#000" stroke-width="1.4" />
<text x="535.6" y="745.66" font-size="12.2" text-anchor="end" >0.06</text>
<line x1="540.1" y1="704.48" x2="543.1" y2="704.48" stroke="#000" stroke-width="1.4" />
<text x="535.6" y="708.68" font-size="12.2" text-anchor="end" >0.08</text>
<text x="535.6" y="671.7" font-size="12.2" text-anchor="end" >0.10</text>
<text x="538.37" y="885.6" font-size="12.2" text-anchor="middle" >-90</text>
<line x1="579.61" y1="870.4" x2="579.61" y2="867.4" stroke="#000" stroke-width="1.4" />
<text x="578.01" y="885.6" font-size="12.2" text-anchor="middle" >-60</text>
<line x1="619.25" y1="870.4" x2="619.25" y2="867.4" stroke="#000" stroke-width="1.4" />
<text x="617.65" y="885.6" font-size="12.2" text-anchor="middle" >-30</text>
<line x1="658.9" y1="870.4" x2="658.9" y2="867.4" stroke="#000" stroke-width="1.4" />
<text x="658.9" y="885.6" font-size="12.2" text-anchor="middle" >0</text>
<line x1="698.54" y1="870.4" x2="698.54" y2="867.4" stroke="#000" stroke-width="1.4" />
<text x="698.54" y="885.6" font-size="12.2" text-anchor="middle" >30</text>
<line x1="738.19" y1="870.4" x2="738.19" y2="867.4" stroke="#000" stroke-width="1.4" />
<text x="738.19" y="885.6" font-size="12.2" text-anchor="middle" >60</text>
<text x="777.83" y="885.6" font-size="12.2" text-anchor="middle" >90</text>
<text x="659.2" y="901.2" font-size="14.4" text-anchor="middle" >Angle (Deg)</text>
<text transform="translate(503.2 768.4) rotate(-90)" font-size="15.2" text-anchor="middle" >Calculated Intensity (A. U.)</text>
<line x1="541.9" y1="678.3" x2="561.6" y2="678.3" stroke="#000" stroke-width="1.4" stroke-dasharray="5.6 8"/>
<text x="565.2" y="681.5" font-size="9.9" text-anchor="start" >Conventional LED</text>
<line x1="541.9" y1="691.2" x2="563.8" y2="691.2" stroke="#000" stroke-width="1.4" />
<text x="565.2" y="694.5" font-size="9.9" text-anchor="start" >Periodic PS LED</text>
<text x="546.8" y="705.5" font-size="9.9" text-anchor="start" >λ = 460 nm</text>
</g>
</svg></body></html>
